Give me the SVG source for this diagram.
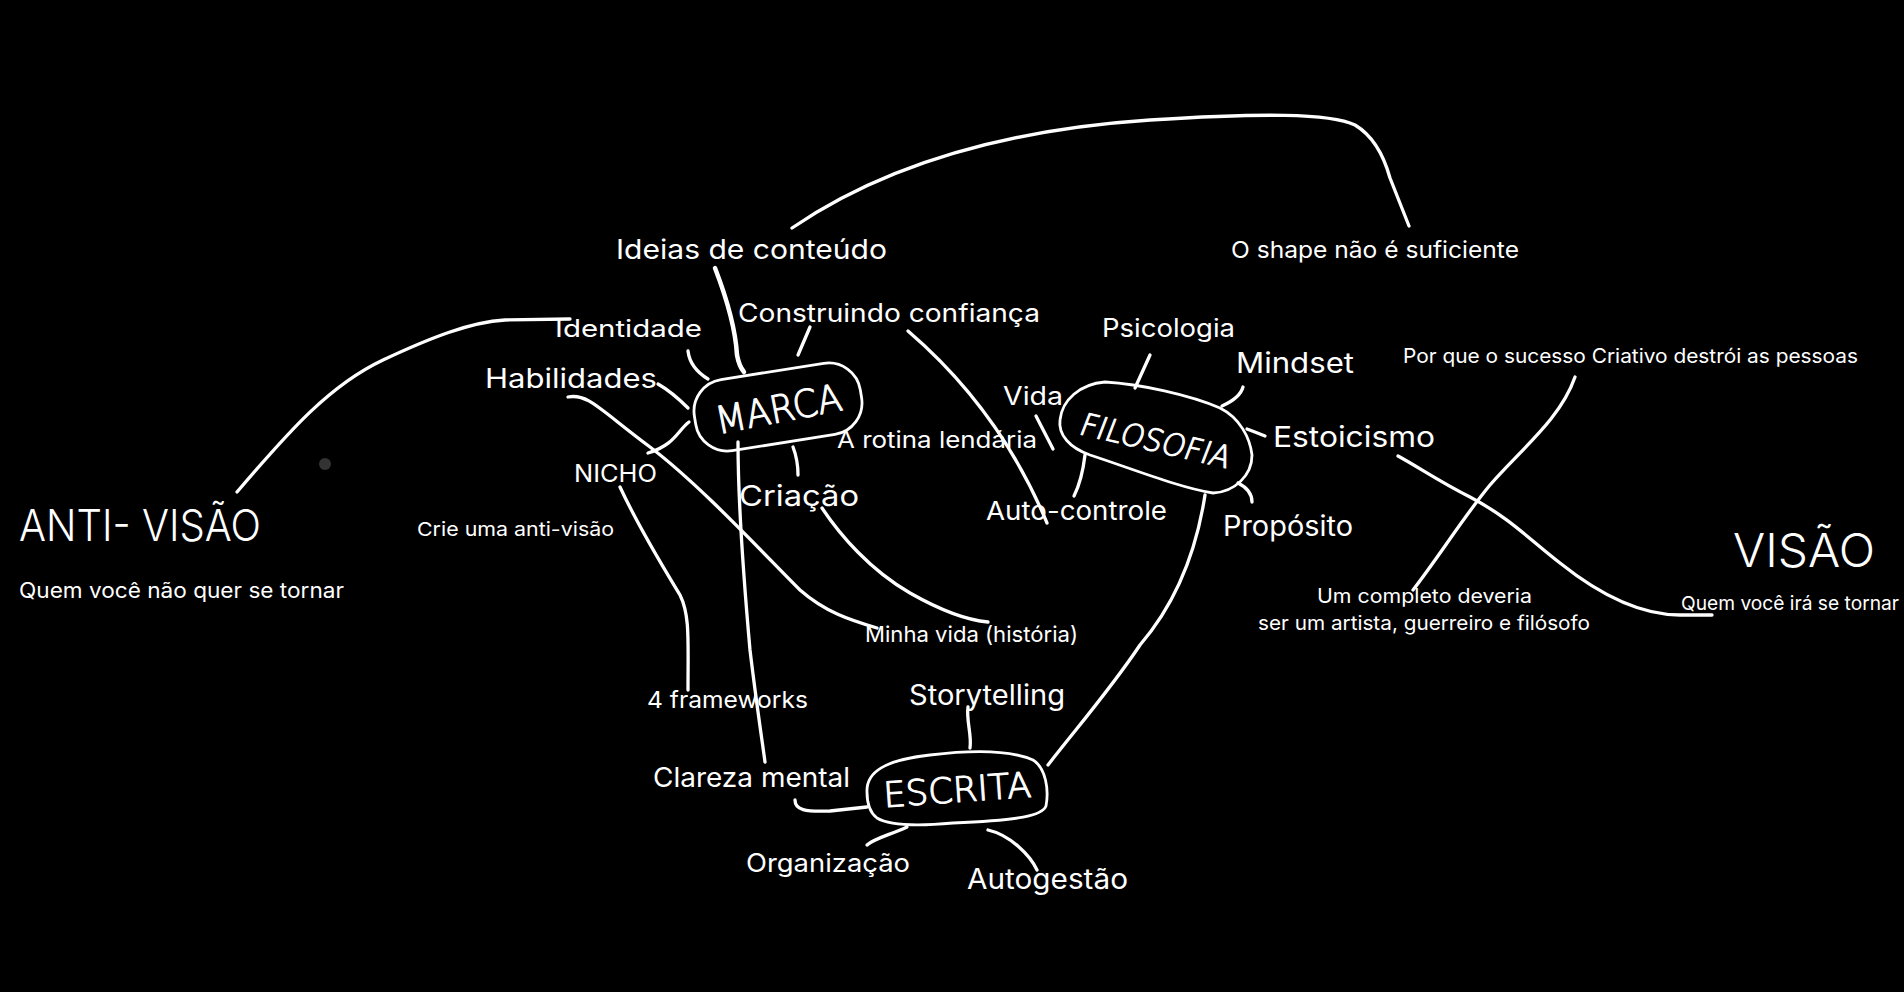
<svg xmlns="http://www.w3.org/2000/svg" width="1904" height="992" viewBox="0 0 1904 992">
<style>
.t{font-family:Inter,"Noto Sans","Liberation Sans",sans-serif;fill:#fff;font-weight:400}
.lt{font-family:Inter,"Noto Sans","Liberation Sans",sans-serif;fill:#fff;font-weight:300}
.h{font-family:"DejaVu Sans","Liberation Sans",sans-serif;fill:#fff;font-weight:300;stroke:#fff;stroke-width:1.1;stroke-linejoin:round}
.c{fill:none;stroke:#fff;stroke-width:3.3;stroke-linecap:round;stroke-linejoin:round}
.b{fill:none;stroke:#fff;stroke-width:2.8;stroke-linejoin:round}
</style>
<rect x="0" y="0" width="1904" height="992" fill="#000"/>
<circle cx="325" cy="464" r="6" fill="#333"/>
<g id="connectors">
<path class="c" d="M792,228 C880,168 1000,130 1150,120 C1260,113 1330,113 1355,125 C1375,137 1385,160 1390,178 L1409,226"/>
<path class="c" style="stroke-width:4.5" d="M715,268 Q735,320 737,355 Q739,366 744,372"/>
<path class="c" d="M810,327 L798,355"/>
<path class="c" d="M908,331 Q1000,410 1047,523"/>
<path class="c" d="M688,351 Q690,368 708,379"/>
<path class="c" d="M658,384 Q672,392 688,408"/>
<path class="c" d="M689,422 C678,430 675,445 648,453"/>
<path class="c" d="M568,397 C588,393 600,410 650,447 C700,485 760,550 800,590 C825,612 850,620 877,628"/>
<path class="c" d="M237,492 C290,430 330,385 383,360 C430,338 470,322 505,320 L570,319"/>
<path class="c" d="M620,487 C640,530 665,570 680,595 C690,615 688,640 688,690"/>
<path class="c" d="M738,442 C738,500 742,560 750,650 C756,700 762,740 765,762"/>
<path class="c" d="M793,447 Q798,460 798,475"/>
<path class="c" d="M822,508 C840,535 870,570 910,593 C940,610 965,620 988,622"/>
<path class="c" d="M968,707 C966,720 972,735 970,748"/>
<path class="c" d="M795,800 C795,810 805,812 830,811 L867,807"/>
<path class="c" d="M907,827 C890,835 875,838 867,845"/>
<path class="c" d="M988,830 C1010,835 1030,855 1037,870"/>
<path class="c" d="M1205,495 C1195,560 1170,610 1140,645 C1110,690 1075,730 1048,765"/>
<path class="c" d="M1150,355 L1135,388"/>
<path class="c" d="M1243,387 Q1240,398 1222,406"/>
<path class="c" d="M1247,429 Q1255,432 1265,436"/>
<path class="c" d="M1238,483 Q1252,490 1252,502"/>
<path class="c" d="M1085,455 Q1082,480 1074,496"/>
<path class="c" d="M1036,416 L1053,449"/>
<path class="c" d="M1575,377 C1560,420 1520,450 1490,485 C1465,515 1440,555 1413,590"/>
<path class="c" d="M1398,456 C1420,468 1440,482 1470,497 C1510,518 1530,540 1560,563 C1600,595 1640,615 1680,615 L1712,615"/>
</g>
<g id="marca">
<rect class="b" x="-84" y="-36" width="168" height="72" rx="32" transform="translate(778,407) rotate(-9)"/>
<text class="h" font-size="38" text-anchor="middle" textLength="128" lengthAdjust="spacingAndGlyphs" transform="translate(781,422) rotate(-11)">MARCA</text>
</g>
<g id="filosofia">
<path class="b" d="M1060,420 C1062,400 1080,384 1105,382 C1140,384 1190,395 1220,408 C1240,418 1250,438 1252,455 C1252,475 1235,492 1213,493 C1180,488 1130,468 1090,455 C1070,448 1058,435 1060,420 Z"/>
<text class="h" font-size="31" text-anchor="middle" textLength="153" lengthAdjust="spacingAndGlyphs" transform="translate(1152,451) rotate(13) skewX(-8)">FILOSOFIA</text>
</g>
<g id="escrita">
<path class="b" d="M867,792 C866,772 885,760 930,755 C970,750 1010,750 1033,760 C1046,768 1049,790 1046,806 C1042,816 1020,820 953,823 C920,826 890,826 877,818 C869,812 867,802 867,792 Z"/>
<text class="h" font-size="35" text-anchor="middle" textLength="148" lengthAdjust="spacingAndGlyphs" transform="translate(958,802) rotate(-4)">ESCRITA</text>
</g>
<g id="ideias"><text class="t" x="616" y="259" font-size="27" textLength="271" lengthAdjust="spacingAndGlyphs">Ideias de conteúdo</text></g>
<g id="construindo"><text class="t" x="738" y="322" font-size="25" textLength="302" lengthAdjust="spacingAndGlyphs">Construindo confiança</text></g>
<g id="identidade"><text class="t" x="555" y="337" font-size="24" textLength="147" lengthAdjust="spacingAndGlyphs">Identidade</text></g>
<g id="habilidades"><text class="t" x="485" y="388" font-size="27" textLength="172" lengthAdjust="spacingAndGlyphs">Habilidades</text></g>
<g id="nicho"><text class="t" x="574" y="482" font-size="24" textLength="83" lengthAdjust="spacingAndGlyphs">NICHO</text></g>
<g id="crie"><text class="t" x="417" y="536" font-size="19" textLength="197" lengthAdjust="spacingAndGlyphs">Crie uma anti-visão</text></g>
<g id="criacao"><text class="t" x="739" y="506" font-size="29" textLength="120" lengthAdjust="spacingAndGlyphs">Criação</text></g>
<g id="rotina"><text class="t" x="837" y="448" font-size="23" textLength="200" lengthAdjust="spacingAndGlyphs">A rotina lendária</text></g>
<g id="vida"><text class="t" x="1003" y="405" font-size="25" textLength="60" lengthAdjust="spacingAndGlyphs">Vida</text></g>
<g id="psicologia"><text class="t" x="1102" y="337" font-size="25" textLength="133" lengthAdjust="spacingAndGlyphs">Psicologia</text></g>
<g id="mindset"><text class="t" x="1236" y="373" font-size="28" textLength="118" lengthAdjust="spacingAndGlyphs">Mindset</text></g>
<g id="estoicismo"><text class="t" x="1273" y="447" font-size="29" textLength="162" lengthAdjust="spacingAndGlyphs">Estoicismo</text></g>
<g id="proposito"><text class="t" x="1223" y="536" font-size="28" textLength="130" lengthAdjust="spacingAndGlyphs">Propósito</text></g>
<g id="autocontrole"><text class="t" x="986" y="520" font-size="26" textLength="181" lengthAdjust="spacingAndGlyphs">Auto-controle</text></g>
<g id="minhavida"><text class="t" x="865" y="642" font-size="22" textLength="213" lengthAdjust="spacingAndGlyphs">Minha vida (história)</text></g>
<g id="frameworks"><text class="t" x="647" y="708" font-size="23" textLength="161" lengthAdjust="spacingAndGlyphs">4 frameworks</text></g>
<g id="storytelling"><text class="t" x="909" y="705" font-size="28" textLength="156" lengthAdjust="spacingAndGlyphs">Storytelling</text></g>
<g id="clareza"><text class="t" x="653" y="787" font-size="27" textLength="197" lengthAdjust="spacingAndGlyphs">Clareza mental</text></g>
<g id="organizacao"><text class="t" x="746" y="872" font-size="25" textLength="164" lengthAdjust="spacingAndGlyphs">Organização</text></g>
<g id="autogestao"><text class="t" x="967" y="889" font-size="28" textLength="161" lengthAdjust="spacingAndGlyphs">Autogestão</text></g>
<g id="shape"><text class="t" x="1231" y="258" font-size="23" textLength="288" lengthAdjust="spacingAndGlyphs">O shape não é suficiente</text></g>
<g id="porque"><text class="t" x="1403" y="363" font-size="20" textLength="455" lengthAdjust="spacingAndGlyphs">Por que o sucesso Criativo destrói as pessoas</text></g>
<g id="visao">
<text class="lt" x="1733" y="567" font-size="47" textLength="142" lengthAdjust="spacingAndGlyphs">VISÃO</text>
<text class="t" x="1681" y="610" font-size="19" textLength="218" lengthAdjust="spacingAndGlyphs">Quem você irá se tornar</text>
</g>
<g id="completo">
<text class="t" x="1317" y="603" font-size="20" textLength="215" lengthAdjust="spacingAndGlyphs">Um completo deveria</text>
<text class="t" x="1258" y="630" font-size="20" textLength="332" lengthAdjust="spacingAndGlyphs">ser um artista, guerreiro e filósofo</text>
</g>
<g id="antivisao">
<text class="lt" x="19" y="541" font-size="44" textLength="242" lengthAdjust="spacingAndGlyphs">ANTI- VISÃO</text>
<text class="t" x="19" y="598" font-size="21" textLength="325" lengthAdjust="spacingAndGlyphs">Quem você não quer se tornar</text>
</g>
</svg>
